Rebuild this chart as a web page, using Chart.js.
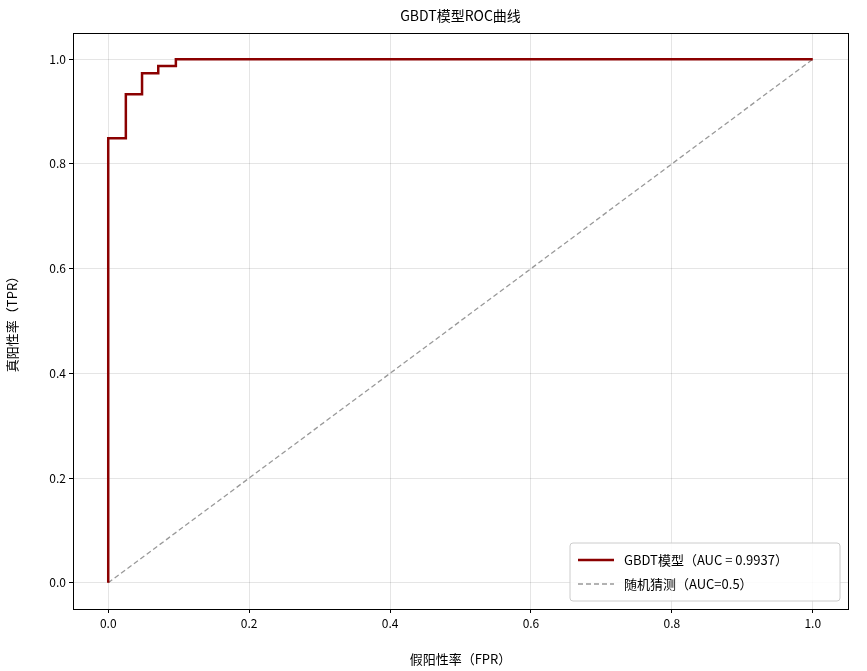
<!DOCTYPE html>
<html>
<head>
<meta charset="utf-8">
<script src="https://cdn.jsdelivr.net/npm/chart.js@4/dist/chart.umd.min.js"></script>
<style>
  html, body { margin: 0; padding: 0; background: #fff; }
  #wrap { width: 867px; height: 671px; }
</style>
</head>
<body>
<div id="wrap"><canvas id="roc"></canvas></div>
<script>
// ROC 曲线数据
const fprValues = [0.0, 0.0, 0.025, 0.025, 0.048, 0.048, 0.071, 0.071, 0.096, 0.096, 1.0];
const tprValues = [0.0, 0.849, 0.849, 0.933, 0.933, 0.973, 0.973, 0.987, 0.987, 1.0, 1.0];
const diagX = [0, 1];
const diagY = [0, 1];
const tickValues = [0.0, 0.2, 0.4, 0.6, 0.8, 1.0];
const seriesLabels = ['GBDT模型（AUC = 0.9937）', '随机猜测（AUC=0.5）'];

const FONT = '"Noto Sans CJK SC", "DejaVu Sans", sans-serif';

const toPoints = (xs, ys) => xs.map((x, i) => ({ x: x, y: ys[i] }));

// 边框、标题、图例
const decor = {
    id: 'decor',
    afterDraw(chart) {
        const { ctx, chartArea: a } = chart;
        ctx.save();
        ctx.strokeStyle = '#000';
        ctx.lineWidth = 1;
        ctx.strokeRect(a.left + 0.5, a.top + 0.5, a.right - a.left, a.bottom - a.top);

        ctx.fillStyle = '#000';
        ctx.font = '14px ' + FONT;
        ctx.textAlign = 'center';
        ctx.textBaseline = 'middle';
        ctx.fillText('GBDT模型ROC曲线', (a.left + a.right) / 2, 16);

        // 图例
        const lw = 270, lh = 58;
        const lx = a.right - lw - 8, ly = a.bottom - lh - 8;
        ctx.fillStyle = 'rgba(255,255,255,0.85)';
        ctx.strokeStyle = '#ccc';
        ctx.beginPath();
        ctx.roundRect(lx, ly, lw, lh, 3);
        ctx.fill();
        ctx.stroke();
        ctx.font = '13px ' + FONT;
        ctx.textAlign = 'left';
        chart.data.datasets.forEach((ds, i) => {
            const yy = ly + 17 + i * 24;
            ctx.strokeStyle = ds.borderColor;
            ctx.lineWidth = ds.borderWidth;
            ctx.setLineDash(ds.borderDash || []);
            ctx.beginPath();
            ctx.moveTo(lx + 8, yy);
            ctx.lineTo(lx + 44, yy);
            ctx.stroke();
            ctx.setLineDash([]);
            ctx.fillStyle = '#000';
            ctx.fillText(ds.label, lx + 54, yy);
        });
        ctx.restore();
    }
};

new Chart(document.getElementById('roc').getContext('2d'), {
    type: 'scatter',
    data: {
        datasets: [{
            label: seriesLabels[0],
            data: toPoints(fprValues, tprValues),
            showLine: true,
            borderColor: '#8b0000',
            borderWidth: 2.5,
            pointRadius: 0,
            tension: 0
        }, {
            label: seriesLabels[1],
            data: toPoints(diagX, diagY),
            showLine: true,
            borderColor: '#999999',
            borderWidth: 1.3,
            borderDash: [5, 3],
            pointRadius: 0
        }]
    },
    options: {
        responsive: true,
        maintainAspectRatio: false,
        animation: false,
        layout: { padding: { left: 0, right: 19, top: 33, bottom: 0 } },
        plugins: { legend: { display: false }, tooltip: { enabled: false } },
        scales: {
            x: {
                type: 'linear', min: -0.05, max: 1.05,
                afterFit: s => { s.height = 62; },
                afterBuildTicks: s => { s.ticks = tickValues.map(v => ({ value: v })); },
                grid: { color: 'rgba(0,0,0,0.1)', drawTicks: true, tickLength: 4, tickColor: '#000' },
                border: { display: false },
                ticks: { color: '#000', font: { family: FONT, size: 12 }, callback: v => v.toFixed(1), maxRotation: 0 },
                title: { display: true, text: '假阳性率（FPR）', color: '#000', font: { family: FONT, size: 13 }, padding: { top: 2 } }
            },
            y: {
                type: 'linear', min: -0.05, max: 1.05,
                afterFit: s => { s.width = 73; },
                afterBuildTicks: s => { s.ticks = tickValues.map(v => ({ value: v })); },
                grid: { color: 'rgba(0,0,0,0.1)', drawTicks: true, tickLength: 4, tickColor: '#000' },
                border: { display: false },
                ticks: { color: '#000', font: { family: FONT, size: 12 }, callback: v => v.toFixed(1) },
                title: { display: true, text: '真阳性率（TPR）', color: '#000', font: { family: FONT, size: 13 }, padding: { bottom: 6 } }
            }
        }
    },
    plugins: [decor]
});
</script>
</body>
</html>
